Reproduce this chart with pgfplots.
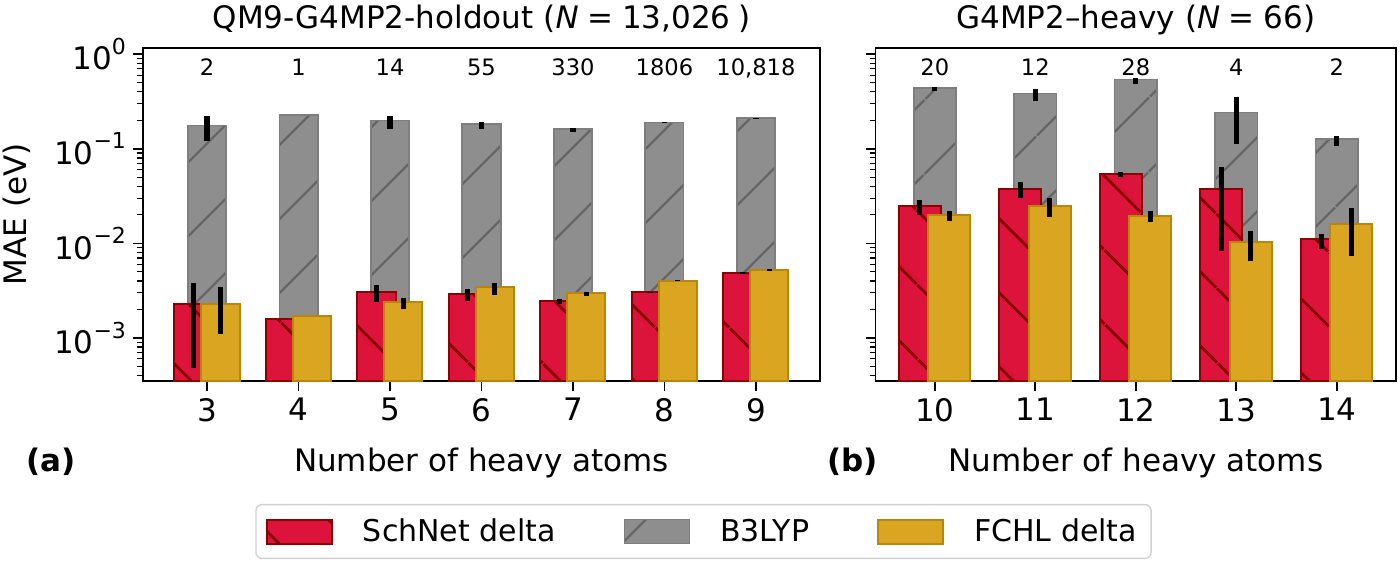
\documentclass[border=0pt]{standalone}
\usepackage{fontspec}
\setmainfont{DejaVu Sans}
\usepackage{pgfplots}
\pgfplotsset{compat=1.18}
\usetikzlibrary{patterns.meta}

\definecolor{crim}{HTML}{DC143C}
\definecolor{dred}{HTML}{8B0000}
\definecolor{gold}{HTML}{DAA520}
\definecolor{dgold}{HTML}{B8860B}
\definecolor{bgray}{HTML}{8E8E8E}
\definecolor{bgrayedge}{HTML}{7E7E7E}
\definecolor{bgrayhatch}{HTML}{646464}

\newcommand{\fs}{\fontsize{15.5}{18}\selectfont}
\newcommand{\sups}[1]{\raisebox{0.5em}{\fontsize{11}{13}\selectfont #1}}

\tikzset{
  b3lyp/.style={fill=bgray, draw=bgrayedge, line width=0.8pt,
    postaction={pattern={Lines[angle=45,distance=26.5pt,line width=1.1pt]}, pattern color=bgrayhatch}},
  schnet/.style={fill=crim, draw=dred, line width=1pt,
    postaction={pattern={Lines[angle=-45,distance=26.5pt,line width=1.5pt]}, pattern color=dred}},
  fchl/.style={fill=gold, draw=dgold, line width=1pt},
  ann/.style={font=\fontsize{11.3}{13}\selectfont, anchor=base},
}
\pgfplotsset{
  errbar/.style={black, line width=2.6pt, line cap=butt, unbounded coords=jump, forget plot},
  barleg/.style={legend image code/.code={\draw[##1, sharp corners] (0pt,-6pt) rectangle (32.5pt,6pt);}},
}

\begin{document}
\begin{tikzpicture}
\useasboundingbox (0,0) rectangle (700pt,282pt);

% (a) QM9-G4MP2-holdout
\begin{axis}[
  scale only axis, at={(71.5pt,91.5pt)}, anchor=south west,
  width=338.5pt, height=166.65pt,
  xmin=2.3, xmax=9.7, xtick={3,4,5,6,7,8,9},
  ymode=log, ymin=3.5e-4, ymax=1.17, log origin=infty,
  ytick={1e-3,1e-2,1e-1,1},
  minor ytick={4e-4,5e-4,6e-4,7e-4,8e-4,9e-4,2e-3,3e-3,4e-3,5e-3,6e-3,7e-3,8e-3,9e-3,
    2e-2,3e-2,4e-2,5e-2,6e-2,7e-2,8e-2,9e-2,2e-1,3e-1,4e-1,5e-1,6e-1,7e-1,8e-1,9e-1},
  yticklabels={10\sups{−3},10\sups{−2},10\sups{−1},10\sups{0}},
  tick align=outside, xtick pos=bottom, ytick pos=left,
  major tick length=5pt, minor tick length=3pt,
  axis line style={line width=0.9pt},
  every tick/.append style={black, line width=0.8pt},
  every minor tick/.append style={line width=0.6pt},
  ticklabel style={font=\fs},
  /pgf/number format/assume math mode=true,
  every axis title shift=0pt,
  title style={font=\fs, at={(axis description cs:0.5,1)}, anchor=base, yshift=9.7pt},
  xlabel style={font=\fs, at={(axis description cs:0.5,0)}, anchor=base, yshift=-45.3pt},
  ylabel style={font=\fs, at={(axis description cs:0,0.5)}, anchor=base, yshift=58.2pt},
  xlabel={Number of heavy atoms},
  ylabel={MAE (eV)},
  title={QM9-G4MP2-holdout (\textit{N}\hspace{0.28em}=\hspace{0.28em}13,026\hspace{0.25em})},
  legend columns=3,
  legend style={at={(axis description cs:0.828,-0.4515)}, anchor=center,
    font=\fontsize{15}{18}\selectfont, draw=black!18, line width=0.7pt, rounded corners=3pt,
    inner xsep=5pt, inner ysep=5pt,
    /tikz/every odd column/.append style={column sep=13pt},
    /tikz/every even column/.append style={column sep=32pt}},
  legend cell align=left,
]
\addlegendimage{barleg, schnet}
\addlegendentry{SchNet delta}
\addlegendimage{barleg, b3lyp}
\addlegendentry{B3LYP}
\addlegendimage{barleg, fchl}
\addlegendentry{FCHL delta}

\addplot[ybar, bar width=0.42, bar shift=0, b3lyp, forget plot] coordinates {
  (3,0.176) (4,0.228) (5,0.199) (6,0.182) (7,0.162) (8,0.189) (9,0.211)};
\addplot[ybar, bar width=0.42, bar shift=-0.15, schnet, forget plot] coordinates {
  (3,0.00228) (4,0.00159) (5,0.00307) (6,0.00292) (7,0.00248) (8,0.00302) (9,0.00484)};
\addplot[ybar, bar width=0.42, bar shift=0.145, fchl, forget plot] coordinates {
  (3,0.00231) (4,0.00171) (5,0.00241) (6,0.00344) (7,0.00297) (8,0.00404) (9,0.00525)};

% error bars (low, high)
\addplot[errbar] table[row sep=\\] {
x y\\
3 0.122\\ 3 0.221\\ 3 nan\\
5 0.162\\ 5 0.224\\ 5 nan\\
6 0.162\\ 6 0.194\\ 6 nan\\
7 0.152\\ 7 0.165\\ 7 nan\\
8 0.186\\ 8 0.191\\ 8 nan\\
9 0.208\\ 9 0.212\\ 9 nan\\
2.85 0.000486\\ 2.85 0.00385\\ 2.85 nan\\
4.85 0.00237\\ 4.85 0.00361\\ 4.85 nan\\
5.85 0.00243\\ 5.85 0.00325\\ 5.85 nan\\
6.85 0.00229\\ 6.85 0.00257\\ 6.85 nan\\
7.85 0.00296\\ 7.85 0.00306\\ 7.85 nan\\
8.85 0.00470\\ 8.85 0.00492\\ 8.85 nan\\
3.145 0.00110\\ 3.145 0.00344\\ 3.145 nan\\
5.145 0.00200\\ 5.145 0.00267\\ 5.145 nan\\
6.145 0.00286\\ 6.145 0.00380\\ 6.145 nan\\
7.145 0.00278\\ 7.145 0.00302\\ 7.145 nan\\
8.145 0.00395\\ 8.145 0.00410\\ 8.145 nan\\
9.145 0.00512\\ 9.145 0.00530\\
};

\node[ann] at (axis cs:3,0.59) {2};
\node[ann] at (axis cs:4,0.59) {1};
\node[ann] at (axis cs:5,0.59) {14};
\node[ann] at (axis cs:6,0.59) {55};
\node[ann] at (axis cs:7,0.59) {330};
\node[ann] at (axis cs:8,0.59) {1806};
\node[ann] at (axis cs:9,0.59) {10,818};
\end{axis}

% (b) G4MP2-heavy
\begin{axis}[
  scale only axis, at={(437.75pt,91.5pt)}, anchor=south west,
  width=260.25pt, height=166.65pt,
  xmin=9.41, xmax=14.59, xtick={10,11,12,13,14},
  ymode=log, ymin=3.5e-4, ymax=1.17, log origin=infty,
  ytick={1e-3,1e-2,1e-1,1},
  minor ytick={4e-4,5e-4,6e-4,7e-4,8e-4,9e-4,2e-3,3e-3,4e-3,5e-3,6e-3,7e-3,8e-3,9e-3,
    2e-2,3e-2,4e-2,5e-2,6e-2,7e-2,8e-2,9e-2,2e-1,3e-1,4e-1,5e-1,6e-1,7e-1,8e-1,9e-1},
  yticklabels={},
  tick align=outside, xtick pos=bottom, ytick pos=left,
  major tick length=5pt, minor tick length=3pt,
  axis line style={line width=0.9pt},
  every tick/.append style={black, line width=0.8pt},
  every minor tick/.append style={line width=0.6pt},
  ticklabel style={font=\fs},
  /pgf/number format/assume math mode=true,
  every axis title shift=0pt,
  title style={font=\fs, at={(axis description cs:0.5,1)}, anchor=base, yshift=9.7pt},
  xlabel style={font=\fs, at={(axis description cs:0.5,0)}, anchor=base, yshift=-45.3pt},
  xlabel={Number of heavy atoms},
  title={G4MP2–heavy (\textit{N}\hspace{0.28em}=\hspace{0.28em}66)},
]
\addplot[ybar, bar width=0.42, bar shift=0, b3lyp] coordinates {
  (10,0.440) (11,0.383) (12,0.539) (13,0.241) (14,0.126)};
\addplot[ybar, bar width=0.42, bar shift=-0.15, schnet] coordinates {
  (10,0.0249) (11,0.0377) (12,0.0543) (13,0.0371) (14,0.0110)};
\addplot[ybar, bar width=0.42, bar shift=0.145, fchl] coordinates {
  (10,0.0200) (11,0.0249) (12,0.0195) (13,0.0103) (14,0.0160)};

\addplot[errbar] table[row sep=\\] {
x y\\
10 0.403\\ 10 0.455\\ 10 nan\\
11 0.321\\ 11 0.430\\ 11 nan\\
12 0.482\\ 12 0.566\\ 12 nan\\
13 0.1135\\ 13 0.356\\ 13 nan\\
14 0.108\\ 14 0.138\\ 14 nan\\
9.85 0.0200\\ 9.85 0.0288\\ 9.85 nan\\
10.85 0.0305\\ 10.85 0.0440\\ 10.85 nan\\
11.85 0.0497\\ 11.85 0.0570\\ 11.85 nan\\
12.85 0.00833\\ 12.85 0.0648\\ 12.85 nan\\
13.85 0.00875\\ 13.85 0.0125\\ 13.85 nan\\
10.145 0.0173\\ 10.145 0.0221\\ 10.145 nan\\
11.145 0.0190\\ 11.145 0.0298\\ 11.145 nan\\
12.145 0.0166\\ 12.145 0.0221\\ 12.145 nan\\
13.145 0.00643\\ 13.145 0.0136\\ 13.145 nan\\
14.145 0.00743\\ 14.145 0.0236\\
};

\node[ann] at (axis cs:10,0.59) {20};
\node[ann] at (axis cs:11,0.59) {12};
\node[ann] at (axis cs:12,0.59) {28};
\node[ann] at (axis cs:13,0.59) {4};
\node[ann] at (axis cs:14,0.59) {2};
\end{axis}

\node[anchor=base west, font=\bfseries\fs, inner sep=0pt] at (13pt,46.2pt) {(a)};
\node[anchor=base west, font=\bfseries\fs, inner sep=0pt] at (413.5pt,46.2pt) {(b)};
\end{tikzpicture}
\end{document}
